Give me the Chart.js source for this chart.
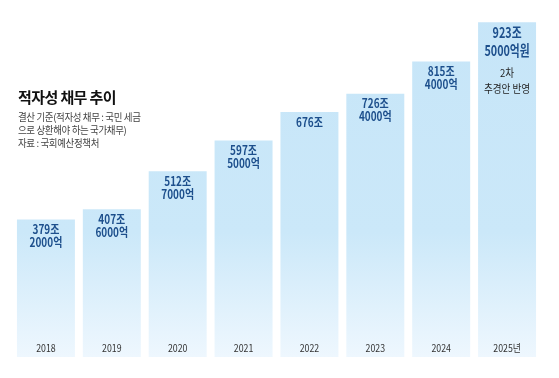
<!DOCTYPE html>
<html><head><meta charset="utf-8">
<script src="https://cdn.jsdelivr.net/npm/chart.js@4/dist/chart.umd.min.js"></script>
<style>
html,body{margin:0;padding:0;background:#fff;}
#wrap{position:relative;width:559px;height:378px;}
canvas{position:absolute;left:0;top:0;}
.t{position:absolute;left:18px;font-family:"Noto Sans CJK KR",sans-serif;white-space:nowrap;transform-origin:left center;}
#title{top:86px;font-size:15px;font-weight:700;color:#111;letter-spacing:-0.6px;}
.s{font-size:10px;color:#444;letter-spacing:-0.4px;line-height:13px;transform:scaleX(0.95);}
</style></head>
<body><div id="wrap">
<canvas id="c" width="559" height="378"></canvas>
<div class="t" id="title">적자성 채무 추이</div>
<div class="t s" style="top:110px">결산 기준(적자성 채무 : 국민 세금</div>
<div class="t s" style="top:123px">으로 상환해야 하는 국가채무)</div>
<div class="t s" style="top:136px">자료 : 국회예산정책처</div>
</div>
<script>
const years = ['2018','2019','2020','2021','2022','2023','2024','2025년'];
const debt = [379.2, 407.6, 512.7, 597.5, 676, 726.4, 815.4, 923.5];
const valueLines = [
  ['379조','2000억'],['407조','6000억'],['512조','7000억'],['597조','5000억'],
  ['676조'],['726조','4000억'],['815조','4000억'],['923조','5000억원']
];
const noteLines = ['2차','추경안 반영'];

function txt(ctx, s, x, y, sx){
  ctx.save();
  ctx.translate(x, y);
  ctx.scale(sx, 1);
  ctx.fillText(s, 0, 0);
  ctx.restore();
}

const labelPlugin = {
  id:'labels',
  afterDatasetsDraw(chart){
    const ctx = chart.ctx;
    const meta = chart.getDatasetMeta(0);
    ctx.save();
    ctx.textAlign='center';
    ctx.textBaseline='middle';
    meta.data.forEach((bar,i)=>{
      const x = bar.x;
      const top = bar.y;
      const last = i === meta.data.length-1;
      ctx.fillStyle='#1d4f8c';
      if(last){
        ctx.font='bold 15px "Noto Sans CJK KR"';
        valueLines[i].forEach((t,k)=>txt(ctx,t,x,top+10+k*18,0.72));
        ctx.fillStyle='#222';
        ctx.font='11px "Noto Sans CJK KR"';
        noteLines.forEach((t,k)=>txt(ctx,t,x,top+51+k*16,0.87));
      } else {
        ctx.font='bold 12.5px "Noto Sans CJK KR"';
        valueLines[i].forEach((t,k)=>txt(ctx,t,x,top+10+k*13,0.8));
      }
      ctx.fillStyle='#333';
      ctx.font='10px "Noto Sans CJK KR"';
      txt(ctx, years[i], x, chart.chartArea.bottom-9, 0.88);
    });
    ctx.restore();
  }
};

new Chart(document.getElementById('c'),{
  type:'bar',
  data:{labels:years,datasets:[{data:debt,
    backgroundColor(c){
      const ca=c.chart.chartArea; if(!ca) return '#c8e6f8';
      const g=c.chart.ctx.createLinearGradient(0,ca.bottom,0,ca.top);
      g.addColorStop(0,'#eef7fe');
      g.addColorStop(0.35,'#cbe8f9');
      g.addColorStop(1,'#c6e5f8');
      return g;
    },
    borderWidth:0,barPercentage:0.88,categoryPercentage:1}]},
  options:{
    responsive:false,animation:false,
    layout:{padding:{left:13,right:19,top:0,bottom:21}},
    plugins:{legend:{display:false},tooltip:{enabled:false}},
    scales:{x:{display:false},y:{display:false,min:0,max:985}}
  },
  plugins:[labelPlugin]
});
</script></body></html>
